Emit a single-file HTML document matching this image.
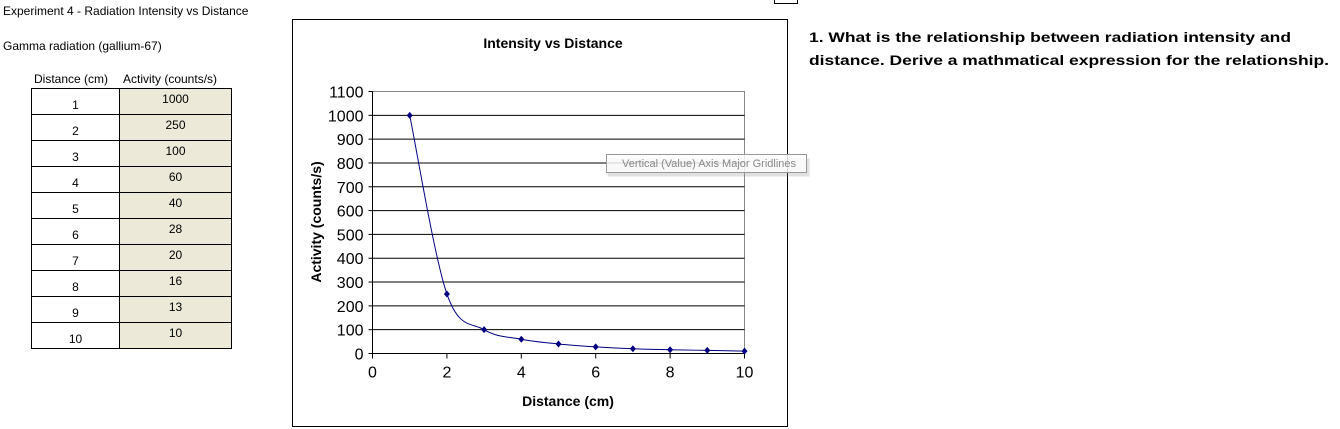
<!DOCTYPE html>
<html><head><meta charset="utf-8"><style>
body{margin:0;width:1340px;height:429px;background:#fff;overflow:hidden;position:relative;font-family:"Liberation Sans",Arial,sans-serif;}
.t{position:absolute;font-size:12px;color:#000;white-space:nowrap}
table{position:absolute;left:31px;top:88px;border-collapse:collapse;font-size:12px}
td{border:1px solid #000;height:25px;padding:0;text-align:center;vertical-align:middle}
td.d{width:87px;padding-top:6px;height:19px}
td.v{width:111px;background:#ECE9D8;padding-bottom:6px;height:19px}
</style></head><body>
<div class="t" style="left:3px;top:4px">Experiment 4 - Radiation Intensity vs Distance</div>
<div class="t" style="left:3px;top:39px">Gamma radiation (gallium-67)</div>
<div class="t" style="left:34px;top:72px">Distance (cm)</div>
<div class="t" style="left:123px;top:72px">Activity (counts/s)</div>
<table><tbody id="tb"></tbody></table>
<div style="position:absolute;left:774px;top:-2px;width:22px;height:4px;border:1px solid #000"></div>
<svg width="1340" height="429" style="position:absolute;left:0;top:0" id="svg">
<rect x="292.5" y="19.5" width="495" height="407" fill="none" stroke="#000"/>
<text x="553" y="48" font-size="14" font-weight="bold" text-anchor="middle" font-family="Liberation Sans">Intensity vs Distance</text>
<text transform="translate(321,222) rotate(-90)" font-size="14" font-weight="bold" text-anchor="middle" font-family="Liberation Sans">Activity (counts/s)</text>
<text x="568" y="406" font-size="14" font-weight="bold" text-anchor="middle" font-family="Liberation Sans">Distance (cm)</text>
<g id="plot"></g>
<g>
<rect x="607.5" y="158.5" width="202" height="18" fill="#999" opacity="0.3"/>
<rect x="606.5" y="154.5" width="200" height="18" fill="#fff" fill-opacity="0.8" stroke="#999"/>
<text x="622" y="167" font-size="11" fill="#888" font-family="Liberation Sans">Vertical (Value) Axis Major Gridlines</text>
</g>
<text x="809" y="42" font-size="14" font-weight="bold" font-family="Liberation Sans" textLength="482" lengthAdjust="spacingAndGlyphs">1. What is the relationship between radiation intensity and</text>
<text x="809" y="65" font-size="14" font-weight="bold" font-family="Liberation Sans" textLength="520" lengthAdjust="spacingAndGlyphs">distance. Derive a mathmatical expression for the relationship.</text>
</svg>
<script>
const distances=[1,2,3,4,5,6,7,8,9,10];
const activity=[1000,250,100,60,40,28,20,16,13,10];
const yTicks=[0,100,200,300,400,500,600,700,800,900,1000,1100];
const xTicks=[0,2,4,6,8,10];
const tb=document.getElementById('tb');
distances.forEach((d,i)=>{
  const tr=document.createElement('tr');
  
  
  tr.innerHTML='<td class="d">'+d+'</td><td class="v">'+activity[i]+'</td>';
  tb.appendChild(tr);
});
const NS='http://www.w3.org/2000/svg';
const g=document.getElementById('plot');
const X0=372.5,X1=744.5,Y0=353.5,Y1=91.5;
const sx=v=>X0+(v-0)/(10-0)*(X1-X0);
const sy=v=>Y0-(v-0)/(1100-0)*(Y0-Y1);
function el(t,a){const e=document.createElementNS(NS,t);for(const k in a)e.setAttribute(k,a[k]);g.appendChild(e);return e;}
const pb=el('rect',{x:X0,y:Y1,width:X1-X0,height:Y0-Y1,fill:'none',stroke:'#888'});


yTicks.forEach(v=>{
  if(v>0&&v<1100){const l=el('line',{x1:X0,x2:X1,y1:sy(v),y2:sy(v),stroke:'#000'});
  
  }
  el('line',{x1:X0-4,x2:X0,y1:sy(v),y2:sy(v),stroke:'#000'});
  const t=el('text',{x:X0-9,y:sy(v)+6,'font-size':16,'text-anchor':'end','font-family':'Liberation Sans'});
  t.textContent=v;
  
  
});
xTicks.forEach(v=>{
  el('line',{x1:sx(v),x2:sx(v),y1:Y0,y2:Y0+5,stroke:'#000'});
  const t=el('text',{x:sx(v),y:Y0+24,'font-size':16,'text-anchor':'middle','font-family':'Liberation Sans'});
  t.textContent=v;
  
  
});
el('line',{x1:X0,x2:X0,y1:Y1,y2:Y0,stroke:'#000'});
el('line',{x1:X0,x2:X1,y1:Y0,y2:Y0,stroke:'#000'});
const P=distances.map((d,i)=>[sx(d),sy(activity[i])]);
let dstr='M'+P[0][0]+','+P[0][1];
for(let i=0;i<P.length-1;i++){
  const p0=P[Math.max(0,i-1)],p1=P[i],p2=P[i+1],p3=P[Math.min(P.length-1,i+2)];
  const c1=[p1[0]+(p2[0]-p0[0])/6,p1[1]+(p2[1]-p0[1])/6];
  const c2=[p2[0]-(p3[0]-p1[0])/6,p2[1]-(p3[1]-p1[1])/6];
  dstr+=' C'+c1+' '+c2+' '+p2;
}
const line=el('path',{d:dstr,fill:'none',stroke:'#000080','stroke-width':1});


P.forEach(p=>{
  const m=el('path',{d:`M${p[0]},${p[1]-3.5}L${p[0]+3},${p[1]}L${p[0]},${p[1]+3.5}L${p[0]-3},${p[1]}Z`,fill:'#000080'});
  
  
});
</script>
</body></html>
